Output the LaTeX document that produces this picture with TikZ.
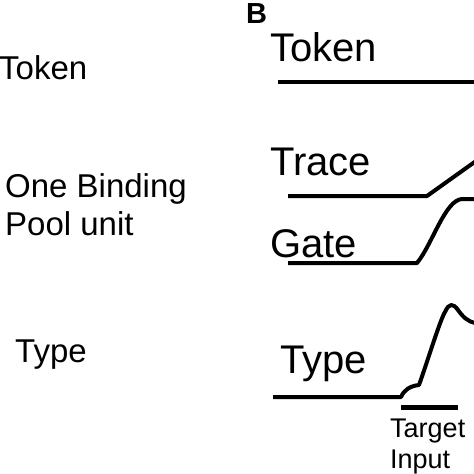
\documentclass[tikz,border=0pt]{standalone}
\usepackage{fontspec}
\setmainfont{Liberation Sans}
\begin{document}
\begin{tikzpicture}[x=1pt,y=-1pt,
  leftlbl/.style={anchor=base west,inner sep=0pt,font=\fontsize{33}{38}\selectfont},
  rightlbl/.style={anchor=base west,inner sep=0pt,font=\fontsize{40}{46}\selectfont},
  smalllbl/.style={anchor=base west,inner sep=0pt,font=\fontsize{27}{32}\selectfont},
  trace/.style={line width=4pt,line join=round}]
\useasboundingbox (0,0) rectangle (474,474);
% left column
\node[leftlbl] (ltoken) at (-1,79) {Token};
\node[leftlbl] (lbind1) at (5,197) {One Binding};
\node[leftlbl] (lbind2) at (5,235) {Pool unit};
\node[leftlbl] (ltype) at (15,362) {Type};
% panel B
\node[anchor=base west,inner sep=0pt,font=\fontsize{29}{34}\selectfont\bfseries] (blbl) at (246,23) {B};
\node[rightlbl] (rtoken) at (270,61) {Token};
\node[rightlbl] (rtrace) at (270,175) {Trace};
\node[rightlbl] (rgate) at (270,257) {Gate};
\node[rightlbl] (rtype) at (280,373) {Type};
\node[smalllbl] (tgt1) at (390,437) {Target};
\node[smalllbl] (tgt2) at (390,468) {Input};
% coordinates
\coordinate (tok0) at (278,82);
\coordinate (tok1) at (476,82);
\coordinate (tr0) at (288,196);
\coordinate (tr1) at (427,196);
\coordinate (tr2) at (476,161);
\coordinate (ga0) at (288,263);
\coordinate (ga1) at (417,263);
\coordinate (ga2) at (476,199);
\coordinate (ty0) at (273,397);
\coordinate (ty1) at (401,397);
\coordinate (ty2) at (419,385);
\coordinate (ty4) at (476,323);
\coordinate (bar0) at (401,407);
\coordinate (bar1) at (458,407);
% traces
\draw[trace] (tok0) -- (tok1);
\draw[trace] (tr0) -- (tr1) -- (tr2);
\draw[trace] (ga0) -- (ga1) .. controls (432,245) and (445,200) .. (462,199) -- (ga2);
\draw[trace] (ty0) -- (ty1) .. controls (404,390) and (410,386) .. (ty2)
  .. controls (428,360) and (440,320) .. (445,312)
  .. controls (449,303) and (453,303) .. (458,310)
  .. controls (463,317) and (468,322) .. (ty4);
\draw[line width=5pt] (bar0) -- (bar1);
\end{tikzpicture}
\end{document}
